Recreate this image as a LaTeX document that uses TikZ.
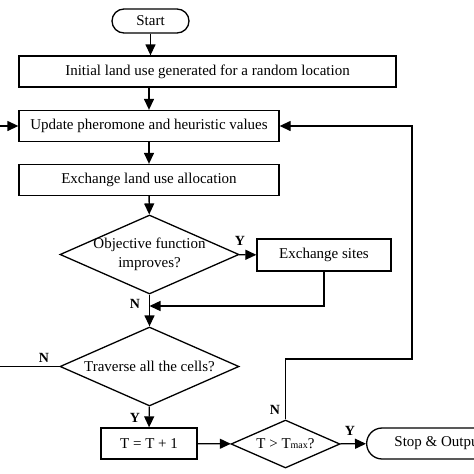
\documentclass[tikz,border=0pt]{standalone}
\usepackage{fontspec}
\setmainfont{Liberation Serif}
\usetikzlibrary{shapes.geometric,arrows.meta}

\begin{document}
\begin{tikzpicture}[x=1pt,y=-1pt]

    \tikzset{
      box/.style={
        draw,
        line width=1.3pt,
        inner sep=0pt,
        minimum height=31pt,
        font=\fontsize{15}{17}\selectfont,
      },
      decision/.style={
        draw,
        diamond,
        shape aspect=2.27,
        line width=1.3pt,
        inner sep=0pt,
        align=center,
        font=\fontsize{15}{19}\selectfont,
      },
      flow/.style={
        line width=1.3pt,
        -{Triangle[length=11pt,width=10pt]},
      },
      yn/.style={
        inner sep=0pt,
        font=\fontsize{14}{16}\selectfont\bfseries,
      },
    }
    \useasboundingbox (0,0) rectangle (474,474);
    \clip (0,0) rectangle (474,474);
	\node[box, rounded corners=12pt, minimum width=77pt, minimum height=24pt] (start) at (150.5,21) {Start};
	\node[box, minimum width=377pt] (init) at (207.5,71.5) {Initial land use generated for a random location};
	\node[box, minimum width=260pt] (update) at (149,126) {Update pheromone and heuristic values};
	\node[box, minimum width=260pt] (alloc) at (149,180) {Exchange land use allocation};
	\node[decision, minimum width=179pt, minimum height=79pt] (improve) at (149.5,254.5) {};
	\node[align=center, inner sep=0pt, font=\fontsize{15}{19}\selectfont] (improvetext) at (improve) {Objective function\\improves?};
	\node[box, minimum width=134pt, minimum height=32pt] (sites) at (324,255) {Exchange sites};
	\node[decision, minimum width=179pt, minimum height=79pt] (traverse) at (149.5,366.5) {Traverse all the cells?};
	\node[box, minimum width=96pt] (incr) at (149,443.5) {T = T + 1};
	\node[decision, minimum width=109pt, minimum height=48pt] (tmax) at (285.5,444) {T > T{\fontsize{10}{10}\selectfont max}?};
	\node[box, rounded corners=15.5pt, minimum width=144pt, anchor=west] (stop) at (366,443.5) {Stop \& Output};
	\coordinate (merge) at (149.5,306);
	\coordinate (loop) at (412,359);
	\coordinate (leftin) at (0,126);
	\coordinate (leftout) at (0,366.5);
	\draw[flow] (start) -- (start |- init.north);
	\draw[flow] (init.south -| update.north) -- (update.north);
	\draw[flow] (update) -- (alloc);
	\draw[flow] (alloc) -- (improve);
	\draw[flow] (improve) -- (sites);
	\draw[flow] (sites.south) |- (merge);
	\draw[flow] (improve) -- (traverse);
	\draw[flow] (traverse) -- (incr);
	\draw[flow] (incr) -- (tmax);
	\draw[flow] (tmax) -- (stop);
	\draw[flow] (tmax.north) |- (loop) |- (update.east);
	\draw[flow] (leftin) -- (update.west);
	\draw[line width=1.3pt] (traverse.west) -- (leftout);
	\node[yn] (y1) at (240,241) {Y};
	\node[yn] (n1) at (135,304) {N};
	\node[yn] (n2) at (44,358) {N};
	\node[yn] (y2) at (135,418) {Y};
	\node[yn] (n3) at (275,410) {N};
	\node[yn] (y3) at (350,431) {Y};

\end{tikzpicture}
\end{document}
